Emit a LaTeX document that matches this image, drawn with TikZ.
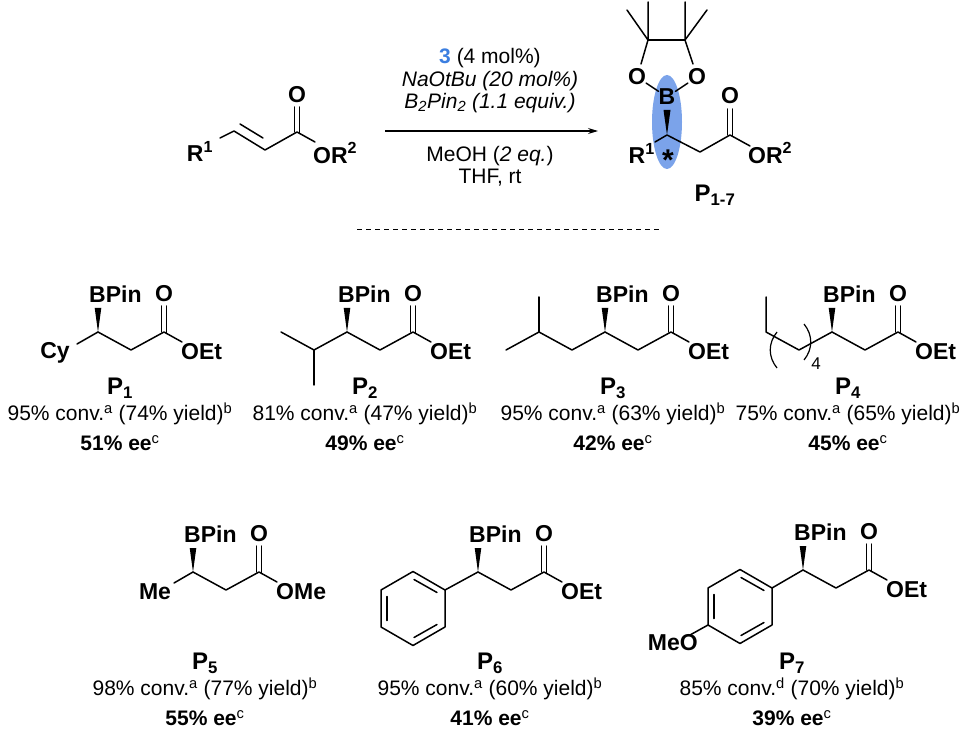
\documentclass[tikz,border=0pt]{standalone}
\usepackage{fontspec}
\setmainfont{Liberation Sans}
\usetikzlibrary{arrows.meta}
\definecolor{hl}{HTML}{7BA3EA}
\definecolor{cat}{HTML}{3B7EE0}
\tikzset{
  bd/.style={line width=1.5pt, line cap=round, line join=round},
  atom/.style={inner sep=0pt, font=\fontsize{23}{24}\selectfont\bfseries},
  txt/.style={inner sep=0pt, font=\fontsize{21}{24}\selectfont},
  lab/.style={inner sep=0pt, font=\fontsize{24}{24}\selectfont\bfseries},
}
% ester fragment at stereocentre (#1,#2), ester label #3, name #4
\newcommand\esterpart[4]{%
  \fill ({#1},{#2}) -- ({#1-3.3},{#2-24}) -- ({#1+3.3},{#2-24}) -- cycle;
  \node[atom,anchor=west] (#4b) at ({#1-9},{#2-38}) {BPin};
  \draw[bd] ({#1},{#2}) -- ({#1+33},{#2+18}) -- ({#1+66},{#2}) -- ({#1+84},{#2+10});
  \draw[bd] ({#1+63.5},{#2}) -- ({#1+63.5},{#2-26});
  \draw[bd] ({#1+68.5},{#2+1.5}) -- ({#1+68.5},{#2-26});
  \node[atom] (#4o) at ({#1+66},{#2-38}) {O};
  \node[atom,anchor=west] (#4e) at ({#1+83},{#2+20}) {#3};
}
% data block centred at #1, label y #2
\newcommand\datablock[6]{%
  \node[lab] (#6l) at ({#1},{#2}) {P\textsubscript{#3}};
  \node[txt] (#6c) at ({#1},{#2+26}) {#4};
  \node[txt] (#6e) at ({#1},{#2+55}) {\bfseries #5 ee\textsuperscript{\mdseries c}};
}
% benzene ring with ipso at (#1,#2)
\newcommand\benz[2]{%
  \def\rx{#1-32}\def\ry{#2+18.5}%
  \draw[bd] ({\rx+32},{\ry-18.5}) -- ({\rx},{\ry-37}) -- ({\rx-32},{\ry-18.5}) -- ({\rx-32},{\ry+18.5}) -- ({\rx},{\ry+37}) -- ({\rx+32},{\ry+18.5}) -- cycle;
  \draw[bd] ({\rx+24},{\ry-16}) -- ({\rx+1},{\ry-29});
  \draw[bd] ({\rx-26},{\ry-12}) -- ({\rx-26},{\ry+12});
  \draw[bd] ({\rx+1},{\ry+29}) -- ({\rx+24},{\ry+16});
}
\begin{document}
\begin{tikzpicture}[x=1pt,y=-1pt]
\useasboundingbox (0,0) rectangle (967,743);
% ---------- reactant ----------
\node[atom] (r1) at (200,151) {R\textsuperscript{1}};
\draw[bd] (220,138) -- (234,131) -- (265,150) -- (297,132) -- (315,142);
\draw[bd] (240,124) -- (263,138);
\draw[bd] (294.5,132) -- (294.5,107);
\draw[bd] (299.5,133.5) -- (299.5,107);
\node[atom] (ro) at (297,95) {O};
\node[atom,anchor=west] (ror) at (313,153) {OR\textsuperscript{2}};
% ---------- arrow & conditions ----------
\coordinate (a1) at (385,131);
\coordinate (a2) at (598,131);
\draw[line width=1.2pt,-{Stealth[length=10pt,width=6pt]}] (a1) -- (a2);
\node[txt] (c1) at (490,58) {\textcolor{cat}{\bfseries 3} (4 mol\%)};
\node[txt] (c2) at (490,81) {\itshape NaOtBu (20 mol\%)};
\node[txt] (c3) at (490,103) {\itshape B\textsubscript{2}Pin\textsubscript{2} (1.1 equiv.)};
\node[txt] (c4) at (490,156) {MeOH (\textit{2 eq.})};
\node[txt] (c5) at (490,178) {THF, rt};
% ---------- product ----------
\fill[hl] (667,122) ellipse [x radius=15, y radius=47];
\draw[bd] (627,10) -- (648,40) -- (648,2);
\draw[bd] (707,10) -- (685,40) -- (685,2);
\draw[bd] (648,40) -- (685,40);
\draw[bd] (648,40) -- (641,64);
\draw[bd] (685,40) -- (693,64);
\node[atom] (po1) at (637,77) {O};
\node[atom] (po2) at (697,77) {O};
\node[atom] (pb) at (667,97) {B};
\draw[bd] (po1) -- (pb);
\draw[bd] (po2) -- (pb);
\fill (667,135) -- (663.5,110) -- (670.5,110) -- cycle;
\draw[bd] (655,142) -- (667,135) -- (700,152) -- (730,135) -- (750,146);
\draw[bd] (727.5,135) -- (727.5,109);
\draw[bd] (732.5,136.5) -- (732.5,109);
\node[atom] (pco) at (730,96) {O};
\node[atom,anchor=east] (pr1) at (655,153) {R\textsuperscript{1}};
\node[inner sep=0pt,font=\fontsize{30}{30}\selectfont\bfseries] (star) at (668,160) {*};
\node[atom,anchor=west] (por) at (748,153) {OR\textsuperscript{2}};
\node[lab] (plab) at (715,195) {P\textsubscript{1-7}};
% ---------- dashed line ----------
\coordinate (d1) at (357,230);
\coordinate (d2) at (660,230);
\draw[line width=1pt,dash pattern=on 5pt off 4pt] (d1) -- (d2);
% ---------- P1 ----------
\esterpart{98}{332}{OEt}{p1}
\draw[bd] (98,332) -- (77,344);
\node[atom] (cy) at (55,353) {Cy};
\datablock{120}{388}{1}{95\% conv.\textsuperscript{a} (74\% yield)\textsuperscript{b}}{51\%}{q1}
% ---------- P2 ----------
\esterpart{347}{332}{OEt}{p2}
\draw[bd] (347,332) -- (314,350) -- (281,332);
\draw[bd] (314,350) -- (314,385);
\datablock{365}{388}{2}{81\% conv.\textsuperscript{a} (47\% yield)\textsuperscript{b}}{49\%}{q2}
% ---------- P3 ----------
\esterpart{605}{332}{OEt}{p3}
\draw[bd] (605,332) -- (572,350) -- (539,332) -- (506,350);
\draw[bd] (539,332) -- (539,297);
\datablock{613}{388}{3}{95\% conv.\textsuperscript{a} (63\% yield)\textsuperscript{b}}{42\%}{q3}
% ---------- P4 ----------
\esterpart{832}{332}{OEt}{p4}
\draw[bd] (832,332) -- (799,350) -- (766,332) -- (766,297);
\draw[line width=1.2pt] (777,332) .. controls (768,343) and (768,357) .. (777,368);
\draw[line width=1.2pt] (804,324) .. controls (813,335) and (813,349) .. (804,360);
\node[inner sep=0pt,font=\fontsize{17}{18}\selectfont] (n4) at (816,364) {4};
\datablock{848}{388}{4}{75\% conv.\textsuperscript{a} (65\% yield)\textsuperscript{b}}{45\%}{q4}
% ---------- P5 ----------
\esterpart{193}{572}{OMe}{p5}
\draw[bd] (193,572) -- (174,583);
\node[atom] (me) at (155,592) {Me};
\datablock{205}{663}{5}{98\% conv.\textsuperscript{a} (77\% yield)\textsuperscript{b}}{55\%}{q5}
% ---------- P6 ----------
\esterpart{478}{572}{OEt}{p6}
\draw[bd] (478,572) -- (445,590);
\benz{445}{590}
\datablock{490}{663}{6}{95\% conv.\textsuperscript{a} (60\% yield)\textsuperscript{b}}{41\%}{q6}
% ---------- P7 ----------
\esterpart{803}{570}{OEt}{p7}
\draw[bd] (803,570) -- (772,588);
\benz{772}{588}
\draw[bd] (708,625) -- (690,635);
\node[atom,anchor=east] (meo) at (698,643) {MeO};
\datablock{792}{663}{7}{85\% conv.\textsuperscript{d} (70\% yield)\textsuperscript{b}}{39\%}{q7}
\end{tikzpicture}
\end{document}
